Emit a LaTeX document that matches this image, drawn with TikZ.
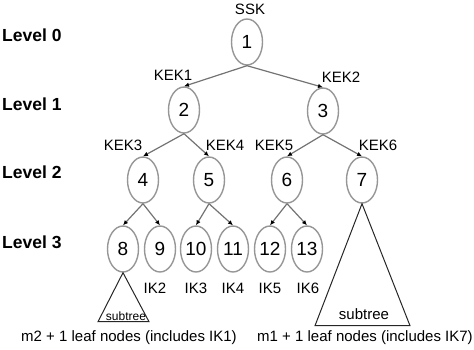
\documentclass[tikz,border=0pt]{standalone}
\usepackage{fontspec}
\setmainfont{Liberation Sans}
\usetikzlibrary{shapes.geometric,arrows.meta}
\definecolor{ringgray}{RGB}{150,150,150}
\definecolor{edgegray}{RGB}{115,115,115}
\tikzset{
  keynode/.style={ellipse,draw=ringgray,line width=1.4pt,minimum width=31pt,minimum height=46pt,inner sep=0pt,font=\fontsize{19}{19}\selectfont},
  lbl/.style={font=\fontsize{15}{15}\selectfont,inner sep=0pt},
  lvl/.style={font=\fontsize{17.5}{17.5}\selectfont\bfseries,inner sep=0pt,anchor=west},
  edge/.style={draw=edgegray,line width=1.2pt,-{Latex[length=5pt,width=4.5pt,color=black]}},
  tri/.style={draw=black!85,line width=1pt}
}
\begin{document}
\begin{tikzpicture}[x=1pt,y=-1pt]
\useasboundingbox (0,0) rectangle (474,349);
% levels
\node[lvl] (L0) at (2,35) {Level 0};
\node[lvl] (L1) at (2,104) {Level 1};
\node[lvl] (L2) at (2,172) {Level 2};
\node[lvl] (L3) at (2,242) {Level 3};
% nodes
\node[keynode] (n1) at (247,42) {1};
\node[keynode] (n2) at (184,110) {2};
\node[keynode] (n3) at (323,111) {3};
\node[keynode] (n4) at (143,180) {4};
\node[keynode] (n5) at (209,180) {5};
\node[keynode] (n6) at (287,180) {6};
\node[keynode] (n7) at (362,180) {7};
\node[keynode] (n8) at (123,249) {8};
\node[keynode] (n9) at (160,249) {9};
\node[keynode] (n10) at (196,249) {10};
\node[keynode] (n11) at (233,249) {11};
\node[keynode] (n12) at (270,249) {12};
\node[keynode] (n13) at (307,249) {13};
% edges
\draw[edge] (n1.south) -- (n2.north);
\draw[edge] (n1.south) -- (n3.north);
\draw[edge] (n2.south) -- (n4.north);
\draw[edge] (n2.south) -- (n5.north);
\draw[edge] (n3.south) -- (n6.north);
\draw[edge] (n3.south) -- (n7.north);
\draw[edge] (n4.south) -- (n8.north);
\draw[edge] (n4.south) -- (n9.north);
\draw[edge] (n5.south) -- (n10.north);
\draw[edge] (n5.south) -- (n11.north);
\draw[edge] (n6.south) -- (n12.north);
\draw[edge] (n6.south) -- (n13.north);
% key labels
\node[lbl] (ssk) at (250,9) {SSK};
\node[lbl] (k1) at (173,75) {KEK1};
\node[lbl] (k2) at (341,77) {KEK2};
\node[lbl] (k3) at (123,145) {KEK3};
\node[lbl] (k4) at (225,145) {KEK4};
\node[lbl] (k5) at (274,145) {KEK5};
\node[lbl] (k6) at (378,145) {KEK6};
% IK labels
\node[lbl] (ik2) at (155,288) {IK2};
\node[lbl] (ik3) at (196,288) {IK3};
\node[lbl] (ik4) at (233,288) {IK4};
\node[lbl] (ik5) at (270,288) {IK5};
\node[lbl] (ik6) at (308,288) {IK6};
% subtrees
\draw[tri] (n8.south) -- ++(-25,49) -- ++(51,0) -- cycle;
\node[font=\fontsize{12}{12}\selectfont,inner sep=0pt] (st1) at (126,316) {subtree};
\draw[tri] (n7.south) -- ++(-47,122) -- ++(95,0) -- cycle;
\node[lbl] (st2) at (364,314) {subtree};
% bottom texts
\node[lbl] (b1) at (129,338) {m2 + 1 leaf nodes (includes IK1)};
\node[lbl] (b2) at (365,338) {m1 + 1 leaf nodes (includes IK7)};
\end{tikzpicture}
\end{document}
